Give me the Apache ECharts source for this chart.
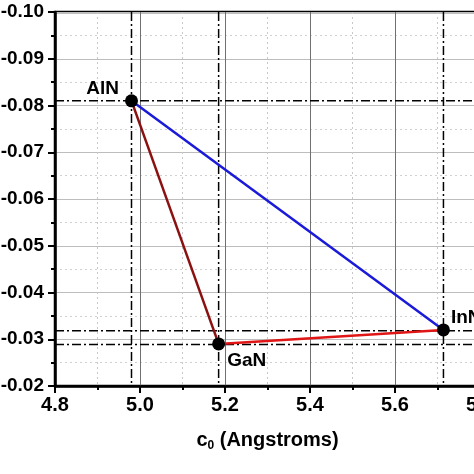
<!DOCTYPE html>
<html>
<head>
<meta charset="utf-8">
<script src="https://cdn.jsdelivr.net/npm/echarts@6/dist/echarts.min.js"></script>
<style>
  html, body { margin: 0; padding: 0; background: #fff; }
  #chart { width: 474px; height: 474px; }
</style>
</head>
<body>
<div id="chart"></div>
<script>
// materials and their lattice constant c0 / spontaneous polarization
const names = ['AlN', 'GaN', 'InN'];
const c0 = [4.98, 5.185, 5.714];
const psp = [-0.081, -0.029, -0.032];

// which pair of points each edge joins, and its colour
const edges = [[0, 2], [0, 1], [1, 2]];
const edgeColors = ['#1a1ad8', '#8b1010', '#e01515'];

// axis ranges
const xRange = [4.8, 5.8];
const yRange = [-0.10, -0.02];

// guide levels for the dash-dot lines
const guideX = [4.98, 5.185, 5.714];
const guideY = [-0.081, -0.0318, -0.0289];

const FONT = 'Liberation Sans, Arial, sans-serif';
const DASH_DOT = [9, 3, 2, 3];

const labelPos = {
  AlN: {position: 'left', offset: [-1, -12]},
  GaN: {position: 'right', offset: [-3, 17]},
  InN: {position: 'right', offset: [-4, -12]},
};

const edgeSeries = edges.map((e, i) => ({
  type: 'line',
  data: e.map(k => [c0[k], psp[k]]),
  showSymbol: false,
  lineStyle: {color: edgeColors[i], width: 2.5},
  z: 3,
  silent: true,
}));

const guideStyle = {color: '#000', width: 1.5, type: DASH_DOT};
const guideSeries = [
  ...guideX.map(v => ({
    type: 'line', showSymbol: false, silent: true, z: 2,
    data: yRange.map(y => [v, y]),
    lineStyle: guideStyle,
  })),
  ...guideY.map(v => ({
    type: 'line', showSymbol: false, silent: true, z: 2,
    data: xRange.map(x => [x, v]),
    lineStyle: guideStyle,
  })),
];

const chartOptions = {
  animation: false,
  grid: {
    left: 55, top: 12, right: -6, bottom: 88,
    outerBoundsMode: 'none',
    containLabel: false,
    show: true, borderColor: '#000', borderWidth: 2.5,
  },
  xAxis: {
    type: 'value',
    min: xRange[0], max: xRange[1], interval: 0.2,
    name: '{a|c}{b|0}{a| (Angstroms)}',
    nameLocation: 'middle',
    nameGap: 42,
    nameTextStyle: {
      rich: {
        a: {fontFamily: FONT, fontWeight: 'bold', fontSize: 20, color: '#000'},
        b: {fontFamily: FONT, fontWeight: 'bold', fontSize: 12, color: '#000', verticalAlign: 'bottom', padding: [12, 0, 0, 0]},
      },
    },
    axisLine: {lineStyle: {color: '#000', width: 2.5}},
    axisTick: {inside: false, length: 7, lineStyle: {color: '#000', width: 2}},
    minorTick: {show: true, splitNumber: 2, length: 4, lineStyle: {color: '#000', width: 2}},
    axisLabel: {
      fontFamily: FONT, fontWeight: 'bold', fontSize: 20, color: '#000', margin: 9,
      formatter: v => v.toFixed(1),
    },
    splitLine: {show: true, lineStyle: {color: '#707070', width: 1}},
    minorSplitLine: {show: true, lineStyle: {color: '#c8c8c8', width: 1, type: [2, 3]}},
  },
  yAxis: {
    type: 'value',
    inverse: true,
    min: yRange[0], max: yRange[1], interval: 0.01,
    axisLine: {lineStyle: {color: '#000', width: 2.5}},
    axisTick: {inside: false, length: 7, lineStyle: {color: '#000', width: 2}},
    minorTick: {show: true, splitNumber: 2, length: 4, lineStyle: {color: '#000', width: 2}},
    axisLabel: {
      fontFamily: FONT, fontWeight: 'bold', fontSize: 19, color: '#000', margin: 11,
      formatter: v => v.toFixed(2),
    },
    splitLine: {show: true, lineStyle: {color: '#bdbdbd', width: 1}},
    minorSplitLine: {show: true, lineStyle: {color: '#d0d0d0', width: 1, type: [2, 3]}},
  },
  series: [
    ...guideSeries,
    ...edgeSeries,
    {
      type: 'scatter',
      data: names.map((n, i) => ({
        value: [c0[i], psp[i]],
        name: n,
        label: {show: true, ...labelPos[n]},
      })),
      symbolSize: 13,
      itemStyle: {color: '#000', opacity: 1},
      label: {
        formatter: p => p.name,
        fontFamily: FONT, fontWeight: 'bold', fontSize: 19, color: '#000',
      },
      z: 5,
    },
  ],
};

const chart = echarts.init(document.getElementById('chart'));
chart.setOption(chartOptions);
</script>
</body>
</html>
